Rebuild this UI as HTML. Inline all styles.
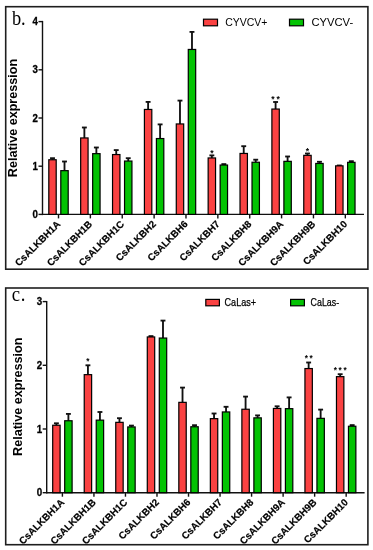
<!DOCTYPE html>
<html><head><meta charset="utf-8"><title>Relative expression</title>
<style>html,body{margin:0;padding:0;background:#fff;}svg{display:block;}</style>
</head><body>
<svg width="373" height="550" viewBox="0 0 373 550">
<rect width="373" height="550" fill="#fff"/>
<rect x="5.7" y="6.7" width="362.2" height="262.5" fill="none" stroke="#1e1e1e" stroke-width="1.6"/>
<text transform="translate(12.0,24.6) scale(0.92,1.0)" x="0 9.8" y="0" font-family="Liberation Serif, serif" font-size="20">b.</text>
<line x1="42.5" y1="20.9" x2="42.5" y2="215.1" stroke="#111" stroke-width="1.4"/>
<line x1="38.5" y1="214.4" x2="42.5" y2="214.4" stroke="#111" stroke-width="1.4"/>
<text transform="translate(38.0,217.95) scale(0.94,1)" text-anchor="end" font-family="Liberation Sans, sans-serif" font-weight="bold" font-size="10.3" stroke="#000" stroke-width="0.3">0</text>
<line x1="38.5" y1="166.2" x2="42.5" y2="166.2" stroke="#111" stroke-width="1.4"/>
<text transform="translate(38.0,169.75) scale(0.94,1)" text-anchor="end" font-family="Liberation Sans, sans-serif" font-weight="bold" font-size="10.3" stroke="#000" stroke-width="0.3">1</text>
<line x1="38.5" y1="118.0" x2="42.5" y2="118.0" stroke="#111" stroke-width="1.4"/>
<text transform="translate(38.0,121.55) scale(0.94,1)" text-anchor="end" font-family="Liberation Sans, sans-serif" font-weight="bold" font-size="10.3" stroke="#000" stroke-width="0.3">2</text>
<line x1="38.5" y1="69.8" x2="42.5" y2="69.8" stroke="#111" stroke-width="1.4"/>
<text transform="translate(38.0,73.35) scale(0.94,1)" text-anchor="end" font-family="Liberation Sans, sans-serif" font-weight="bold" font-size="10.3" stroke="#000" stroke-width="0.3">3</text>
<line x1="38.5" y1="21.6" x2="42.5" y2="21.6" stroke="#111" stroke-width="1.4"/>
<text transform="translate(38.0,25.15) scale(0.94,1)" text-anchor="end" font-family="Liberation Sans, sans-serif" font-weight="bold" font-size="10.3" stroke="#000" stroke-width="0.3">4</text>
<line x1="42.5" y1="214.4" x2="364" y2="214.4" stroke="#111" stroke-width="1.4"/>
<text transform="translate(17.2,118.0) rotate(-90)" text-anchor="middle" font-family="Liberation Sans, sans-serif" font-weight="bold" font-size="12.6">Relative expression</text>
<line x1="58.5" y1="214.4" x2="58.5" y2="218.4" stroke="#111" stroke-width="1.4"/>
<line x1="52.5" y1="159.75" x2="52.5" y2="158.2" stroke="#111" stroke-width="1.85"/>
<line x1="50.05" y1="158.2" x2="54.95" y2="158.2" stroke="#111" stroke-width="1.85"/>
<rect x="48.8" y="159.75" width="7.4" height="54.65" fill="#fa4242" stroke="#000" stroke-width="1.2"/>
<line x1="64.5" y1="170.65" x2="64.5" y2="161.5" stroke="#111" stroke-width="1.85"/>
<line x1="62.05" y1="161.5" x2="66.95" y2="161.5" stroke="#111" stroke-width="1.85"/>
<rect x="60.8" y="170.65" width="7.4" height="43.75" fill="#03c303" stroke="#000" stroke-width="1.2"/>
<text transform="translate(61.0,224.7) rotate(-45)" text-anchor="end" font-family="Liberation Sans, sans-serif" font-weight="bold" font-size="9.8" stroke="#000" stroke-width="0.2">CsALKBH1A</text>
<line x1="90.37" y1="214.4" x2="90.37" y2="218.4" stroke="#111" stroke-width="1.4"/>
<line x1="84.37" y1="137.95" x2="84.37" y2="127.5" stroke="#111" stroke-width="1.85"/>
<line x1="81.92" y1="127.5" x2="86.82" y2="127.5" stroke="#111" stroke-width="1.85"/>
<rect x="80.67" y="137.95" width="7.4" height="76.45" fill="#fa4242" stroke="#000" stroke-width="1.2"/>
<line x1="96.37" y1="153.65" x2="96.37" y2="147.5" stroke="#111" stroke-width="1.85"/>
<line x1="93.92" y1="147.5" x2="98.82" y2="147.5" stroke="#111" stroke-width="1.85"/>
<rect x="92.67" y="153.65" width="7.4" height="60.75" fill="#03c303" stroke="#000" stroke-width="1.2"/>
<text transform="translate(92.87,224.7) rotate(-45)" text-anchor="end" font-family="Liberation Sans, sans-serif" font-weight="bold" font-size="9.8" stroke="#000" stroke-width="0.2">CsALKBH1B</text>
<line x1="122.24" y1="214.4" x2="122.24" y2="218.4" stroke="#111" stroke-width="1.4"/>
<line x1="116.24" y1="154.55" x2="116.24" y2="150.1" stroke="#111" stroke-width="1.85"/>
<line x1="113.79" y1="150.1" x2="118.69" y2="150.1" stroke="#111" stroke-width="1.85"/>
<rect x="112.54" y="154.55" width="7.4" height="59.85" fill="#fa4242" stroke="#000" stroke-width="1.2"/>
<line x1="128.24" y1="161.05" x2="128.24" y2="158.2" stroke="#111" stroke-width="1.85"/>
<line x1="125.79" y1="158.2" x2="130.69" y2="158.2" stroke="#111" stroke-width="1.85"/>
<rect x="124.54" y="161.05" width="7.4" height="53.35" fill="#03c303" stroke="#000" stroke-width="1.2"/>
<text transform="translate(124.74,224.7) rotate(-45)" text-anchor="end" font-family="Liberation Sans, sans-serif" font-weight="bold" font-size="9.8" stroke="#000" stroke-width="0.2">CsALKBH1C</text>
<line x1="154.11" y1="214.4" x2="154.11" y2="218.4" stroke="#111" stroke-width="1.4"/>
<line x1="148.11" y1="109.45" x2="148.11" y2="101.9" stroke="#111" stroke-width="1.85"/>
<line x1="145.66" y1="101.9" x2="150.56" y2="101.9" stroke="#111" stroke-width="1.85"/>
<rect x="144.41" y="109.45" width="7.4" height="104.95" fill="#fa4242" stroke="#000" stroke-width="1.2"/>
<line x1="160.11" y1="138.55" x2="160.11" y2="124.4" stroke="#111" stroke-width="1.85"/>
<line x1="157.66" y1="124.4" x2="162.56" y2="124.4" stroke="#111" stroke-width="1.85"/>
<rect x="156.41" y="138.55" width="7.4" height="75.85" fill="#03c303" stroke="#000" stroke-width="1.2"/>
<text transform="translate(156.61,224.7) rotate(-45)" text-anchor="end" font-family="Liberation Sans, sans-serif" font-weight="bold" font-size="9.8" stroke="#000" stroke-width="0.2">CsALKBH2</text>
<line x1="185.98" y1="214.4" x2="185.98" y2="218.4" stroke="#111" stroke-width="1.4"/>
<line x1="179.98" y1="123.95" x2="179.98" y2="100.6" stroke="#111" stroke-width="1.85"/>
<line x1="177.53" y1="100.6" x2="182.43" y2="100.6" stroke="#111" stroke-width="1.85"/>
<rect x="176.28" y="123.95" width="7.4" height="90.45" fill="#fa4242" stroke="#000" stroke-width="1.2"/>
<line x1="191.98" y1="49.45" x2="191.98" y2="31.9" stroke="#111" stroke-width="1.85"/>
<line x1="189.53" y1="31.9" x2="194.43" y2="31.9" stroke="#111" stroke-width="1.85"/>
<rect x="188.28" y="49.45" width="7.4" height="164.95" fill="#03c303" stroke="#000" stroke-width="1.2"/>
<text transform="translate(188.48,224.7) rotate(-45)" text-anchor="end" font-family="Liberation Sans, sans-serif" font-weight="bold" font-size="9.8" stroke="#000" stroke-width="0.2">CsALKBH6</text>
<line x1="217.85" y1="214.4" x2="217.85" y2="218.4" stroke="#111" stroke-width="1.4"/>
<line x1="211.85" y1="157.95" x2="211.85" y2="155.4" stroke="#111" stroke-width="1.85"/>
<line x1="209.4" y1="155.4" x2="214.3" y2="155.4" stroke="#111" stroke-width="1.85"/>
<rect x="208.15" y="157.95" width="7.4" height="56.45" fill="#fa4242" stroke="#000" stroke-width="1.2"/>
<line x1="223.85" y1="165.05" x2="223.85" y2="164.1" stroke="#111" stroke-width="1.85"/>
<line x1="221.4" y1="164.1" x2="226.3" y2="164.1" stroke="#111" stroke-width="1.85"/>
<rect x="220.15" y="165.05" width="7.4" height="49.35" fill="#03c303" stroke="#000" stroke-width="1.2"/>
<text x="211.85" y="155.69" text-anchor="middle" font-family="Liberation Sans, sans-serif" font-weight="bold" font-size="8.6">*</text>
<text transform="translate(220.35,224.7) rotate(-45)" text-anchor="end" font-family="Liberation Sans, sans-serif" font-weight="bold" font-size="9.8" stroke="#000" stroke-width="0.2">CsALKBH7</text>
<line x1="249.72" y1="214.4" x2="249.72" y2="218.4" stroke="#111" stroke-width="1.4"/>
<line x1="243.72" y1="153.45" x2="243.72" y2="146.2" stroke="#111" stroke-width="1.85"/>
<line x1="241.27" y1="146.2" x2="246.17" y2="146.2" stroke="#111" stroke-width="1.85"/>
<rect x="240.02" y="153.45" width="7.4" height="60.95" fill="#fa4242" stroke="#000" stroke-width="1.2"/>
<line x1="255.72" y1="162.25" x2="255.72" y2="159.7" stroke="#111" stroke-width="1.85"/>
<line x1="253.27" y1="159.7" x2="258.17" y2="159.7" stroke="#111" stroke-width="1.85"/>
<rect x="252.02" y="162.25" width="7.4" height="52.15" fill="#03c303" stroke="#000" stroke-width="1.2"/>
<text transform="translate(252.22,224.7) rotate(-45)" text-anchor="end" font-family="Liberation Sans, sans-serif" font-weight="bold" font-size="9.8" stroke="#000" stroke-width="0.2">CsALKBH8</text>
<line x1="281.59" y1="214.4" x2="281.59" y2="218.4" stroke="#111" stroke-width="1.4"/>
<line x1="275.59" y1="109.05" x2="275.59" y2="102.0" stroke="#111" stroke-width="1.85"/>
<line x1="273.14" y1="102.0" x2="278.04" y2="102.0" stroke="#111" stroke-width="1.85"/>
<rect x="271.89" y="109.05" width="7.4" height="105.35" fill="#fa4242" stroke="#000" stroke-width="1.2"/>
<line x1="287.59" y1="161.35" x2="287.59" y2="156.5" stroke="#111" stroke-width="1.85"/>
<line x1="285.14" y1="156.5" x2="290.04" y2="156.5" stroke="#111" stroke-width="1.85"/>
<rect x="283.89" y="161.35" width="7.4" height="53.05" fill="#03c303" stroke="#000" stroke-width="1.2"/>
<text x="272.99 278.19" y="101.99" text-anchor="middle" font-family="Liberation Sans, sans-serif" font-weight="bold" font-size="8.6">**</text>
<text transform="translate(284.09,224.7) rotate(-45)" text-anchor="end" font-family="Liberation Sans, sans-serif" font-weight="bold" font-size="9.8" stroke="#000" stroke-width="0.2">CsALKBH9A</text>
<line x1="313.46" y1="214.4" x2="313.46" y2="218.4" stroke="#111" stroke-width="1.4"/>
<line x1="307.46" y1="155.35" x2="307.46" y2="153.5" stroke="#111" stroke-width="1.85"/>
<line x1="305.01" y1="153.5" x2="309.91" y2="153.5" stroke="#111" stroke-width="1.85"/>
<rect x="303.76" y="155.35" width="7.4" height="59.05" fill="#fa4242" stroke="#000" stroke-width="1.2"/>
<line x1="319.46" y1="163.45" x2="319.46" y2="161.8" stroke="#111" stroke-width="1.85"/>
<line x1="317.01" y1="161.8" x2="321.91" y2="161.8" stroke="#111" stroke-width="1.85"/>
<rect x="315.76" y="163.45" width="7.4" height="50.95" fill="#03c303" stroke="#000" stroke-width="1.2"/>
<text x="307.46" y="153.89" text-anchor="middle" font-family="Liberation Sans, sans-serif" font-weight="bold" font-size="8.6">*</text>
<text transform="translate(315.96,224.7) rotate(-45)" text-anchor="end" font-family="Liberation Sans, sans-serif" font-weight="bold" font-size="9.8" stroke="#000" stroke-width="0.2">CsALKBH9B</text>
<line x1="345.33" y1="214.4" x2="345.33" y2="218.4" stroke="#111" stroke-width="1.4"/>
<line x1="339.33" y1="165.85" x2="339.33" y2="165.5" stroke="#111" stroke-width="1.85"/>
<line x1="336.88" y1="165.5" x2="341.78" y2="165.5" stroke="#111" stroke-width="1.85"/>
<rect x="335.63" y="165.85" width="7.4" height="48.55" fill="#fa4242" stroke="#000" stroke-width="1.2"/>
<line x1="351.33" y1="162.35" x2="351.33" y2="161.2" stroke="#111" stroke-width="1.85"/>
<line x1="348.88" y1="161.2" x2="353.78" y2="161.2" stroke="#111" stroke-width="1.85"/>
<rect x="347.63" y="162.35" width="7.4" height="52.05" fill="#03c303" stroke="#000" stroke-width="1.2"/>
<text transform="translate(347.83,224.7) rotate(-45)" text-anchor="end" font-family="Liberation Sans, sans-serif" font-weight="bold" font-size="9.8" stroke="#000" stroke-width="0.2">CsALKBH10</text>
<rect x="203.5" y="19.2" width="14" height="6.6" fill="#fa4242" stroke="#000" stroke-width="1.2"/>
<text x="225.2" y="26.3" font-family="Liberation Sans, sans-serif" font-size="10.5">CYVCV+</text>
<rect x="289.5" y="19.2" width="14" height="6.6" fill="#03c303" stroke="#000" stroke-width="1.2"/>
<text x="311.4" y="26.3" textLength="41.8" lengthAdjust="spacingAndGlyphs" font-family="Liberation Sans, sans-serif" font-size="10.5">CYVCV-</text>
<rect x="5.7" y="288" width="362.2" height="256.7" fill="none" stroke="#1e1e1e" stroke-width="1.6"/>
<text transform="translate(11.8,300.9) scale(1.0,1.09)" x="0 9.0" y="0" font-family="Liberation Serif, serif" font-size="18.7">c.</text>
<line x1="46.7" y1="300.9" x2="46.7" y2="493.4" stroke="#111" stroke-width="1.4"/>
<line x1="42.7" y1="492.7" x2="46.7" y2="492.7" stroke="#111" stroke-width="1.4"/>
<text transform="translate(42.2,496.29) scale(0.94,1)" text-anchor="end" font-family="Liberation Sans, sans-serif" font-weight="bold" font-size="10.4" stroke="#000" stroke-width="0.3">0</text>
<line x1="42.7" y1="429.0" x2="46.7" y2="429.0" stroke="#111" stroke-width="1.4"/>
<text transform="translate(42.2,432.59) scale(0.94,1)" text-anchor="end" font-family="Liberation Sans, sans-serif" font-weight="bold" font-size="10.4" stroke="#000" stroke-width="0.3">1</text>
<line x1="42.7" y1="365.3" x2="46.7" y2="365.3" stroke="#111" stroke-width="1.4"/>
<text transform="translate(42.2,368.89) scale(0.94,1)" text-anchor="end" font-family="Liberation Sans, sans-serif" font-weight="bold" font-size="10.4" stroke="#000" stroke-width="0.3">2</text>
<line x1="42.7" y1="301.6" x2="46.7" y2="301.6" stroke="#111" stroke-width="1.4"/>
<text transform="translate(42.2,305.19) scale(0.94,1)" text-anchor="end" font-family="Liberation Sans, sans-serif" font-weight="bold" font-size="10.4" stroke="#000" stroke-width="0.3">3</text>
<line x1="46.7" y1="492.7" x2="364.6" y2="492.7" stroke="#111" stroke-width="1.4"/>
<text transform="translate(22.4,396.8) rotate(-90)" text-anchor="middle" font-family="Liberation Sans, sans-serif" font-weight="bold" font-size="12.6">Relative expression</text>
<line x1="62.4" y1="492.7" x2="62.4" y2="496.7" stroke="#111" stroke-width="1.4"/>
<line x1="56.4" y1="425.25" x2="56.4" y2="423.3" stroke="#111" stroke-width="1.85"/>
<line x1="53.95" y1="423.3" x2="58.85" y2="423.3" stroke="#111" stroke-width="1.85"/>
<rect x="52.7" y="425.25" width="7.4" height="67.45" fill="#fa4242" stroke="#000" stroke-width="1.2"/>
<line x1="68.4" y1="420.75" x2="68.4" y2="413.9" stroke="#111" stroke-width="1.85"/>
<line x1="65.95" y1="413.9" x2="70.85" y2="413.9" stroke="#111" stroke-width="1.85"/>
<rect x="64.7" y="420.75" width="7.4" height="71.95" fill="#03c303" stroke="#000" stroke-width="1.2"/>
<text transform="translate(64.9,503.0) rotate(-45)" text-anchor="end" font-family="Liberation Sans, sans-serif" font-weight="bold" font-size="9.8" stroke="#000" stroke-width="0.2">CsALKBH1A</text>
<line x1="93.93" y1="492.7" x2="93.93" y2="496.7" stroke="#111" stroke-width="1.4"/>
<line x1="87.93" y1="374.65" x2="87.93" y2="365.3" stroke="#111" stroke-width="1.85"/>
<line x1="85.48" y1="365.3" x2="90.38" y2="365.3" stroke="#111" stroke-width="1.85"/>
<rect x="84.23" y="374.65" width="7.4" height="118.05" fill="#fa4242" stroke="#000" stroke-width="1.2"/>
<line x1="99.93" y1="420.15" x2="99.93" y2="412.0" stroke="#111" stroke-width="1.85"/>
<line x1="97.48" y1="412.0" x2="102.38" y2="412.0" stroke="#111" stroke-width="1.85"/>
<rect x="96.23" y="420.15" width="7.4" height="72.55" fill="#03c303" stroke="#000" stroke-width="1.2"/>
<text x="87.93" y="364.48" text-anchor="middle" font-family="Liberation Sans, sans-serif" font-weight="bold" font-size="8.2">*</text>
<text transform="translate(96.43,503.0) rotate(-45)" text-anchor="end" font-family="Liberation Sans, sans-serif" font-weight="bold" font-size="9.8" stroke="#000" stroke-width="0.2">CsALKBH1B</text>
<line x1="125.46" y1="492.7" x2="125.46" y2="496.7" stroke="#111" stroke-width="1.4"/>
<line x1="119.46" y1="422.35" x2="119.46" y2="418.2" stroke="#111" stroke-width="1.85"/>
<line x1="117.01" y1="418.2" x2="121.91" y2="418.2" stroke="#111" stroke-width="1.85"/>
<rect x="115.76" y="422.35" width="7.4" height="70.35" fill="#fa4242" stroke="#000" stroke-width="1.2"/>
<line x1="131.46" y1="426.95" x2="131.46" y2="425.6" stroke="#111" stroke-width="1.85"/>
<line x1="129.01" y1="425.6" x2="133.91" y2="425.6" stroke="#111" stroke-width="1.85"/>
<rect x="127.76" y="426.95" width="7.4" height="65.75" fill="#03c303" stroke="#000" stroke-width="1.2"/>
<text transform="translate(127.96,503.0) rotate(-45)" text-anchor="end" font-family="Liberation Sans, sans-serif" font-weight="bold" font-size="9.8" stroke="#000" stroke-width="0.2">CsALKBH1C</text>
<line x1="156.99" y1="492.7" x2="156.99" y2="496.7" stroke="#111" stroke-width="1.4"/>
<line x1="150.99" y1="336.95" x2="150.99" y2="336.1" stroke="#111" stroke-width="1.85"/>
<line x1="148.54" y1="336.1" x2="153.44" y2="336.1" stroke="#111" stroke-width="1.85"/>
<rect x="147.29" y="336.95" width="7.4" height="155.75" fill="#fa4242" stroke="#000" stroke-width="1.2"/>
<line x1="162.99" y1="338.05" x2="162.99" y2="320.6" stroke="#111" stroke-width="1.85"/>
<line x1="160.54" y1="320.6" x2="165.44" y2="320.6" stroke="#111" stroke-width="1.85"/>
<rect x="159.29" y="338.05" width="7.4" height="154.65" fill="#03c303" stroke="#000" stroke-width="1.2"/>
<text transform="translate(159.49,503.0) rotate(-45)" text-anchor="end" font-family="Liberation Sans, sans-serif" font-weight="bold" font-size="9.8" stroke="#000" stroke-width="0.2">CsALKBH2</text>
<line x1="188.52" y1="492.7" x2="188.52" y2="496.7" stroke="#111" stroke-width="1.4"/>
<line x1="182.52" y1="402.35" x2="182.52" y2="387.6" stroke="#111" stroke-width="1.85"/>
<line x1="180.07" y1="387.6" x2="184.97" y2="387.6" stroke="#111" stroke-width="1.85"/>
<rect x="178.82" y="402.35" width="7.4" height="90.35" fill="#fa4242" stroke="#000" stroke-width="1.2"/>
<line x1="194.52" y1="426.75" x2="194.52" y2="425.2" stroke="#111" stroke-width="1.85"/>
<line x1="192.07" y1="425.2" x2="196.97" y2="425.2" stroke="#111" stroke-width="1.85"/>
<rect x="190.82" y="426.75" width="7.4" height="65.95" fill="#03c303" stroke="#000" stroke-width="1.2"/>
<text transform="translate(191.02,503.0) rotate(-45)" text-anchor="end" font-family="Liberation Sans, sans-serif" font-weight="bold" font-size="9.8" stroke="#000" stroke-width="0.2">CsALKBH6</text>
<line x1="220.05" y1="492.7" x2="220.05" y2="496.7" stroke="#111" stroke-width="1.4"/>
<line x1="214.05" y1="418.65" x2="214.05" y2="413.5" stroke="#111" stroke-width="1.85"/>
<line x1="211.6" y1="413.5" x2="216.5" y2="413.5" stroke="#111" stroke-width="1.85"/>
<rect x="210.35" y="418.65" width="7.4" height="74.05" fill="#fa4242" stroke="#000" stroke-width="1.2"/>
<line x1="226.05" y1="411.95" x2="226.05" y2="406.8" stroke="#111" stroke-width="1.85"/>
<line x1="223.6" y1="406.8" x2="228.5" y2="406.8" stroke="#111" stroke-width="1.85"/>
<rect x="222.35" y="411.95" width="7.4" height="80.75" fill="#03c303" stroke="#000" stroke-width="1.2"/>
<text transform="translate(222.55,503.0) rotate(-45)" text-anchor="end" font-family="Liberation Sans, sans-serif" font-weight="bold" font-size="9.8" stroke="#000" stroke-width="0.2">CsALKBH7</text>
<line x1="251.58" y1="492.7" x2="251.58" y2="496.7" stroke="#111" stroke-width="1.4"/>
<line x1="245.58" y1="409.25" x2="245.58" y2="396.6" stroke="#111" stroke-width="1.85"/>
<line x1="243.13" y1="396.6" x2="248.03" y2="396.6" stroke="#111" stroke-width="1.85"/>
<rect x="241.88" y="409.25" width="7.4" height="83.45" fill="#fa4242" stroke="#000" stroke-width="1.2"/>
<line x1="257.58" y1="417.85" x2="257.58" y2="415.4" stroke="#111" stroke-width="1.85"/>
<line x1="255.13" y1="415.4" x2="260.03" y2="415.4" stroke="#111" stroke-width="1.85"/>
<rect x="253.88" y="417.85" width="7.4" height="74.85" fill="#03c303" stroke="#000" stroke-width="1.2"/>
<text transform="translate(254.08,503.0) rotate(-45)" text-anchor="end" font-family="Liberation Sans, sans-serif" font-weight="bold" font-size="9.8" stroke="#000" stroke-width="0.2">CsALKBH8</text>
<line x1="283.11" y1="492.7" x2="283.11" y2="496.7" stroke="#111" stroke-width="1.4"/>
<line x1="277.11" y1="408.45" x2="277.11" y2="406.3" stroke="#111" stroke-width="1.85"/>
<line x1="274.66" y1="406.3" x2="279.56" y2="406.3" stroke="#111" stroke-width="1.85"/>
<rect x="273.41" y="408.45" width="7.4" height="84.25" fill="#fa4242" stroke="#000" stroke-width="1.2"/>
<line x1="289.11" y1="408.65" x2="289.11" y2="397.4" stroke="#111" stroke-width="1.85"/>
<line x1="286.66" y1="397.4" x2="291.56" y2="397.4" stroke="#111" stroke-width="1.85"/>
<rect x="285.41" y="408.65" width="7.4" height="84.05" fill="#03c303" stroke="#000" stroke-width="1.2"/>
<text transform="translate(285.61,503.0) rotate(-45)" text-anchor="end" font-family="Liberation Sans, sans-serif" font-weight="bold" font-size="9.8" stroke="#000" stroke-width="0.2">CsALKBH9A</text>
<line x1="314.64" y1="492.7" x2="314.64" y2="496.7" stroke="#111" stroke-width="1.4"/>
<line x1="308.64" y1="368.55" x2="308.64" y2="362.5" stroke="#111" stroke-width="1.85"/>
<line x1="306.19" y1="362.5" x2="311.09" y2="362.5" stroke="#111" stroke-width="1.85"/>
<rect x="304.94" y="368.55" width="7.4" height="124.15" fill="#fa4242" stroke="#000" stroke-width="1.2"/>
<line x1="320.64" y1="418.35" x2="320.64" y2="409.6" stroke="#111" stroke-width="1.85"/>
<line x1="318.19" y1="409.6" x2="323.09" y2="409.6" stroke="#111" stroke-width="1.85"/>
<rect x="316.94" y="418.35" width="7.4" height="74.35" fill="#03c303" stroke="#000" stroke-width="1.2"/>
<text x="306.24 311.04" y="360.98" text-anchor="middle" font-family="Liberation Sans, sans-serif" font-weight="bold" font-size="8.2">**</text>
<text transform="translate(317.14,503.0) rotate(-45)" text-anchor="end" font-family="Liberation Sans, sans-serif" font-weight="bold" font-size="9.8" stroke="#000" stroke-width="0.2">CsALKBH9B</text>
<line x1="346.17" y1="492.7" x2="346.17" y2="496.7" stroke="#111" stroke-width="1.4"/>
<line x1="340.17" y1="376.65" x2="340.17" y2="374.2" stroke="#111" stroke-width="1.85"/>
<line x1="337.72" y1="374.2" x2="342.62" y2="374.2" stroke="#111" stroke-width="1.85"/>
<rect x="336.47" y="376.65" width="7.4" height="116.05" fill="#fa4242" stroke="#000" stroke-width="1.2"/>
<line x1="352.17" y1="426.25" x2="352.17" y2="425.1" stroke="#111" stroke-width="1.85"/>
<line x1="349.72" y1="425.1" x2="354.62" y2="425.1" stroke="#111" stroke-width="1.85"/>
<rect x="348.47" y="426.25" width="7.4" height="66.45" fill="#03c303" stroke="#000" stroke-width="1.2"/>
<text x="335.37 340.17 344.97" y="373.48" text-anchor="middle" font-family="Liberation Sans, sans-serif" font-weight="bold" font-size="8.2">***</text>
<text transform="translate(348.67,503.0) rotate(-45)" text-anchor="end" font-family="Liberation Sans, sans-serif" font-weight="bold" font-size="9.8" stroke="#000" stroke-width="0.2">CsALKBH10</text>
<rect x="205.8" y="299.4" width="13.6" height="6.4" fill="#fa4242" stroke="#000" stroke-width="1.2"/>
<text x="224.6" y="306.2" textLength="31.4" lengthAdjust="spacingAndGlyphs" font-family="Liberation Sans, sans-serif" font-size="11" stroke="#000" stroke-width="0.25">CaLas+</text>
<rect x="290.6" y="299.4" width="13.8" height="6.4" fill="#03c303" stroke="#000" stroke-width="1.2"/>
<text x="310.6" y="306.2" textLength="28.5" lengthAdjust="spacingAndGlyphs" font-family="Liberation Sans, sans-serif" font-size="11" stroke="#000" stroke-width="0.25">CaLas-</text>
</svg>
</body></html>
